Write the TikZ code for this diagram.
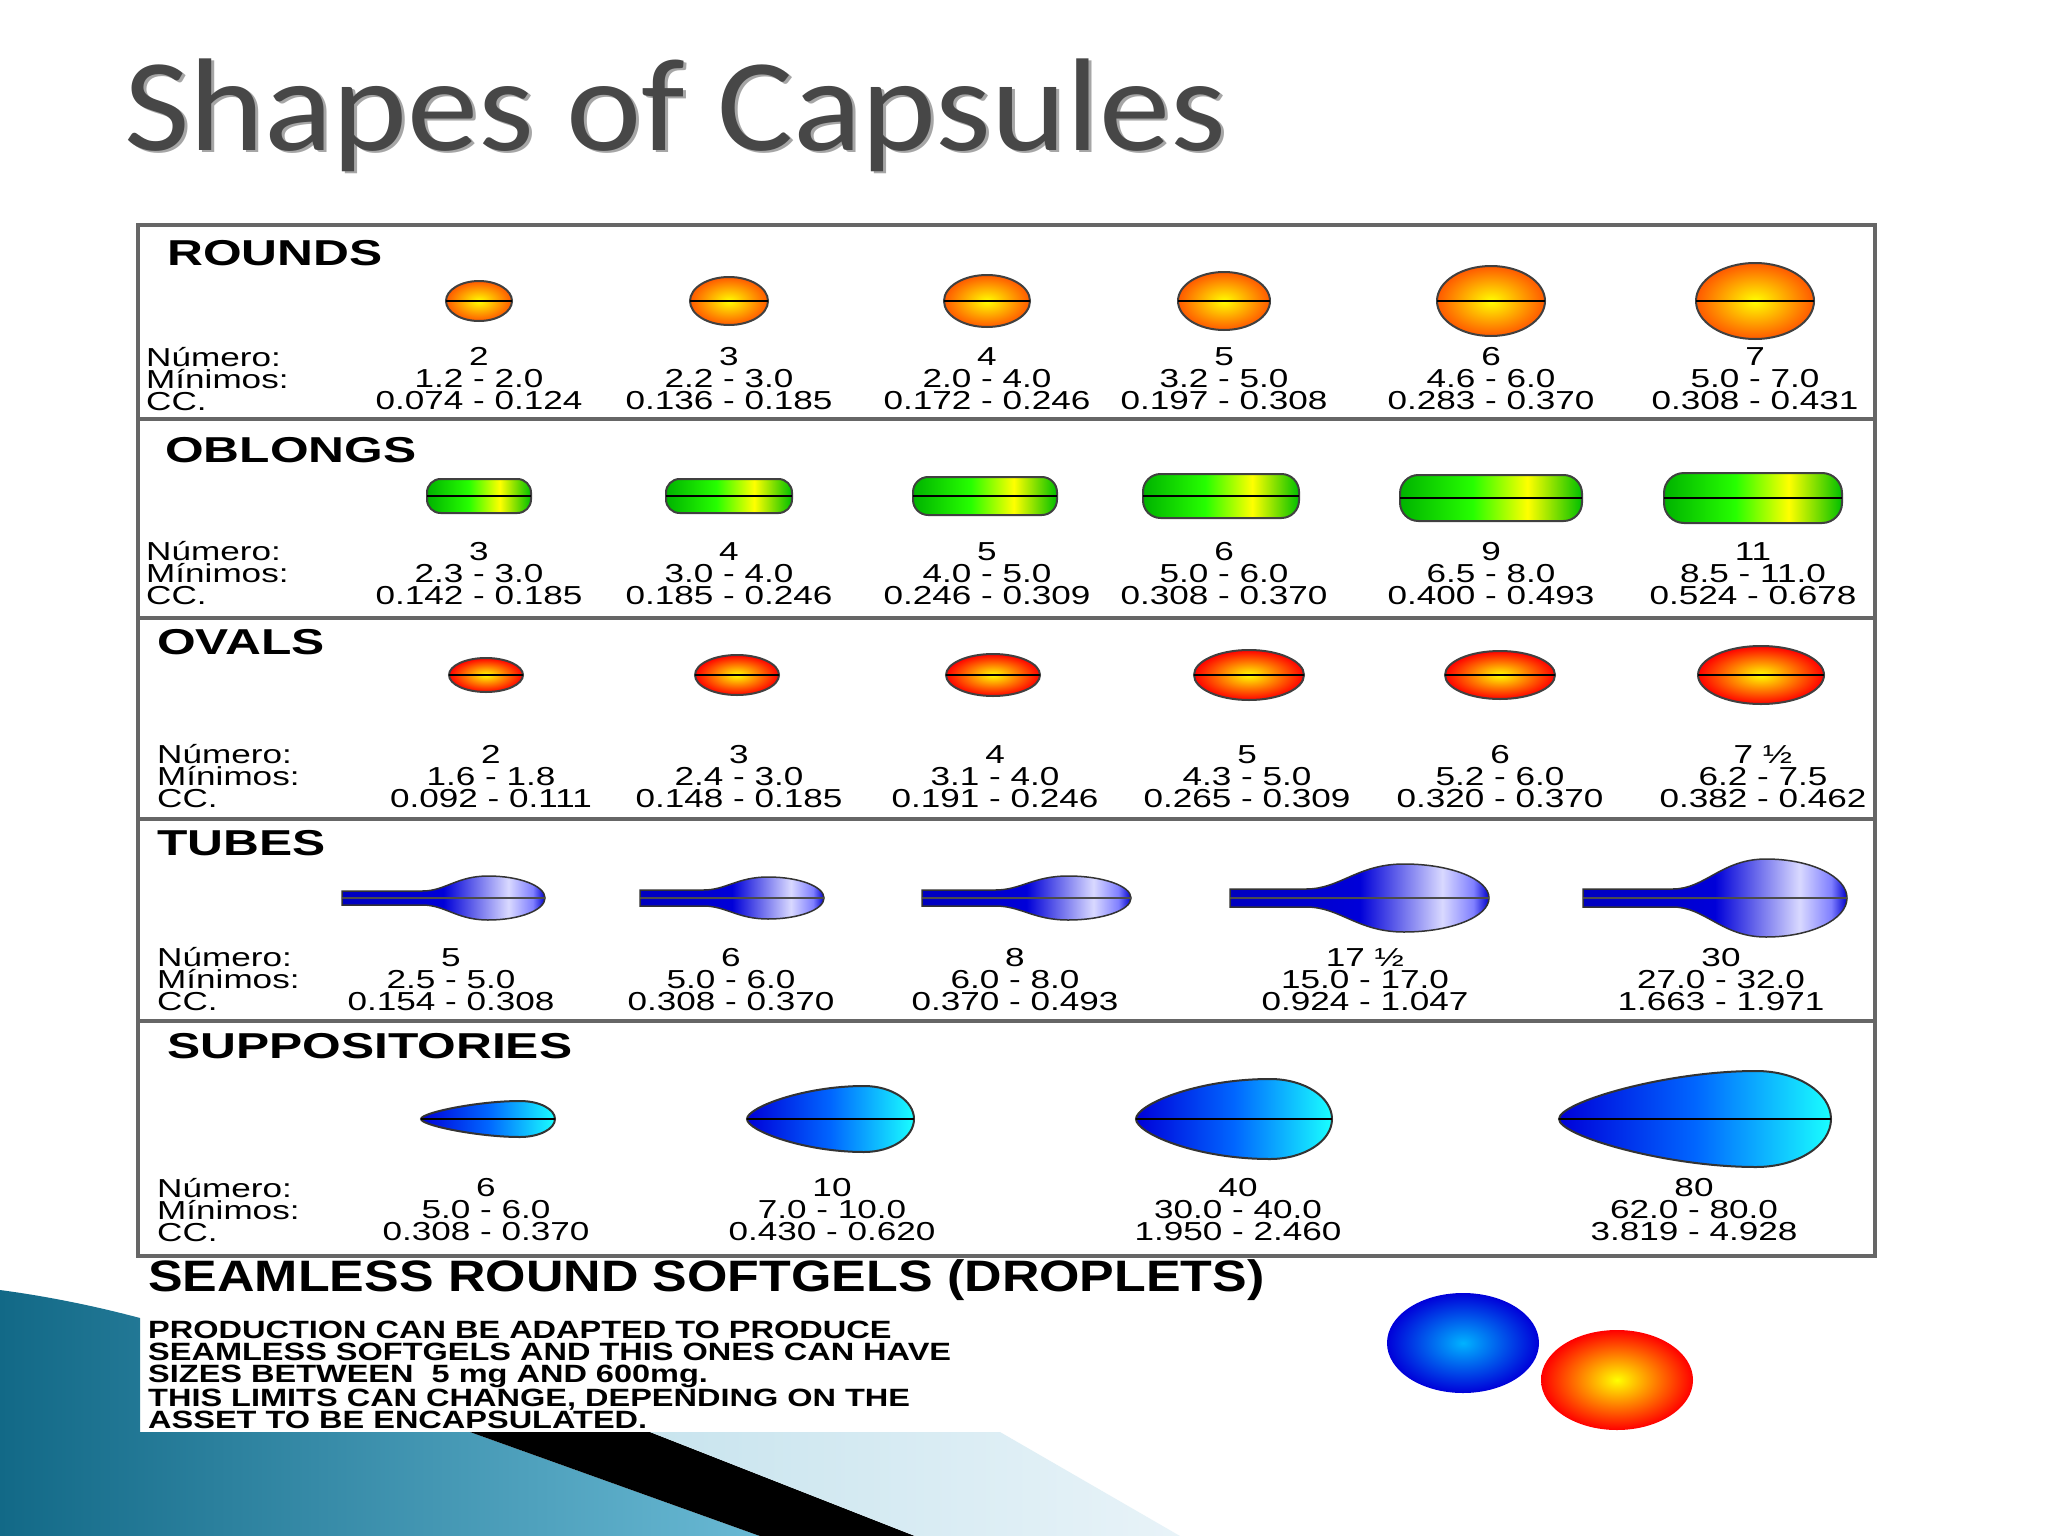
\documentclass[tikz,border=0pt]{standalone}
\usepackage{fontspec}
\setmainfont{Liberation Sans}
\newfontfamily\titlefont[FakeStretch=1.08]{Carlito}
\newfontfamily\numfont[FakeStretch=1.35]{Liberation Sans}
\newfontfamily\hdrfont[FakeStretch=1.38]{Liberation Sans Bold}
\newfontfamily\dhfont[FakeStretch=1.18]{Liberation Sans Bold}
\newfontfamily\txtfont[FakeStretch=1.3]{Liberation Sans Bold}
\definecolor{tealA}{RGB}{18,105,135}
\definecolor{tealB}{RGB}{105,185,212}
\definecolor{paleA}{RGB}{200,228,238}
\definecolor{paleB}{RGB}{232,243,248}
\pgfdeclarehorizontalshading{tubesh}{100bp}{color(0bp)=(blue!75!black); color(25bp)=(blue!75!black); color(50bp)=(blue!85!black); color(66bp)=(white!85!blue); color(72bp)=(blue!50!white); color(75bp)=(blue!80!black); color(100bp)=(blue!80!black)}
\pgfdeclarehorizontalshading{suppsh}{100bp}{color(0bp)=(blue!85!black); color(25bp)=(blue!85!black); color(50bp)=(blue!60!cyan); color(75bp)=(cyan!90!white); color(100bp)=(cyan!90!white)}
\pgfdeclarehorizontalshading{oblsh}{100bp}{color(0bp)=(green!70!black); color(25bp)=(green!70!black); color(45bp)=(green!85!yellow); color(60bp)=(yellow); color(75bp)=(green!75!black); color(100bp)=(green!75!black)}
\tikzset{
  lbl/.style={font=\numfont\fontsize{26}{22}\selectfont, align=center, inner sep=0pt},
  side/.style={font=\numfont\fontsize{26}{22}\selectfont, align=left, inner sep=0pt, anchor=west},
  hdr/.style={font=\hdrfont\fontsize{36}{36}\selectfont, inner sep=0pt, anchor=west},
  frame/.style={draw=black!60, line width=3.5pt},
  rnd/.style={draw=black!75, line width=2pt, inner color=yellow, outer color=orange!70!red},
  ovl/.style={draw=black!75, line width=2pt, inner color=yellow, outer color=red},
  obl/.style={draw=black!75, line width=2pt, shading=oblsh},
  tub/.style={draw=black!80, line width=1.5pt, shading=tubesh},
  sup/.style={draw=black!80, line width=2pt, shading=suppsh},
  mid/.style={draw=black, line width=1.5pt}
}
\newcommand\capell[6]{% name style cx cy rx ry
  \path[#2] (#3,#4) ellipse [x radius=#5, y radius=#6];
  \coordinate (#1) at (#3,#4);
  \draw[mid] ({#3-#5},#4) -- ({#3+#5},#4);
}
\newcommand\oblong[5]{% name cx cy hw hh
  \path[obl, rounded corners=#5*0.8] ({#2-#4},{#3-#5}) rectangle ({#2+#4},{#3+#5});
  \coordinate (#1) at (#2,#3);
  \draw[mid] ({#2-#4},#3) -- ({#2+#4},#3);
}
\newcommand\tubeshape[7]{% name cx cy rx ry x0 n
  \path[tub] (#6,{#3-#7}) -- ({#2-#4*1.15},{#3-#7}) .. controls ({#2-#4*0.75},{#3-#7}) and ({#2-#4*0.55},{#3-#5}) .. (#2,{#3-#5})
    arc[start angle=-90, end angle=90, x radius=#4, y radius=#5]
    .. controls ({#2-#4*0.55},{#3+#5}) and ({#2-#4*0.75},{#3+#7}) .. ({#2-#4*1.15},{#3+#7}) -- (#6,{#3+#7}) -- cycle;
  \coordinate (#1) at (#2,#3);
  \draw[mid, draw=black!70] (#6,#3) -- ({#2+#4},#3);
}
\newcommand\suppshape[6]{% name cx cy rx ry x0
  \path[sup] (#6,#3) .. controls (#6,{#3-#5*0.35}) and ({#2-#4*1.2},{#3-#5}) .. (#2,{#3-#5})
    arc[start angle=-90, end angle=90, x radius=#4, y radius=#5]
    .. controls ({#2-#4*1.2},{#3+#5}) and (#6,{#3+#5*0.35}) .. (#6,#3) -- cycle;
  \coordinate (#1) at (#2,#3);
  \draw[mid] (#6,#3) -- ({#2+#4},#3);
}
\newcommand\lab[5]{\node[lbl] (#1) at (#2) {#3\\#4\\#5};}
\begin{document}
\begin{tikzpicture}[x=1pt,y=-1pt]
\useasboundingbox (0,0) rectangle (2048,1536);
\fill[white] (0,0) rectangle (2048,1536);
% background swoosh
\path[left color=tealA, right color=tealB] (0,1290) .. controls (60,1298) and (110,1310) .. (140,1318) -- (140,1432) -- (470,1432) -- (760,1536) -- (0,1536) -- cycle;
\fill[black] (470,1432) -- (650,1432) -- (915,1536) -- (760,1536) -- cycle;
\path[left color=paleA, right color=paleB] (650,1432) -- (1000,1432) -- (1180,1536) -- (915,1536) -- cycle;
% title
\node[anchor=base west, inner sep=0pt, text=black!35, font=\titlefont\fontsize{132}{132}\selectfont] (titlesh) at (127,153) {Shapes of Capsules};
\node[anchor=base west, inner sep=0pt, text=black!72, font=\titlefont\fontsize{132}{132}\selectfont] (title) at (124,150) {Shapes of Capsules};
% frame
\draw[frame] (138,225) rectangle (1875,1256);
\foreach \yy in {419,618,819,1021} \draw[frame] (138,\yy) -- (1875,\yy);
% ROUNDS
\node[hdr] (hrounds) at (167,253) {ROUNDS};
\capell{r1}{rnd}{479}{301}{33}{20}
\capell{r2}{rnd}{729}{301}{39}{24}
\capell{r3}{rnd}{987}{301}{43}{26}
\capell{r4}{rnd}{1224}{301}{46}{29}
\capell{r5}{rnd}{1491}{301}{54}{35}
\capell{r6}{rnd}{1755}{301}{59}{38}
\node[side] (sr) at (146,379) {Número:\\Mínimos:\\CC.};
\lab{lr1}{479,379}{2}{1.2 - 2.0}{0.074 - 0.124}
\lab{lr2}{729,379}{3}{2.2 - 3.0}{0.136 - 0.185}
\lab{lr3}{987,379}{4}{2.0 - 4.0}{0.172 - 0.246}
\lab{lr4}{1224,379}{5}{3.2 - 5.0}{0.197 - 0.308}
\lab{lr5}{1491,379}{6}{4.6 - 6.0}{0.283 - 0.370}
\lab{lr6}{1755,379}{7}{5.0 - 7.0}{0.308 - 0.431}
% OBLONGS
\node[hdr] (hobl) at (165,450) {OBLONGS};
\oblong{o1}{479}{496}{52}{17}
\oblong{o2}{729}{496}{63}{17}
\oblong{o3}{985}{496}{72}{19}
\oblong{o4}{1221}{496}{78}{22}
\oblong{o5}{1491}{498}{91}{23}
\oblong{o6}{1753}{498}{89}{25}
\node[side] (so) at (146,573) {Número:\\Mínimos:\\CC.};
\lab{lo1}{479,574}{3}{2.3 - 3.0}{0.142 - 0.185}
\lab{lo2}{729,574}{4}{3.0 - 4.0}{0.185 - 0.246}
\lab{lo3}{987,574}{5}{4.0 - 5.0}{0.246 - 0.309}
\lab{lo4}{1224,574}{6}{5.0 - 6.0}{0.308 - 0.370}
\lab{lo5}{1491,574}{9}{6.5 - 8.0}{0.400 - 0.493}
\lab{lo6}{1753,574}{11}{8.5 - 11.0}{0.524 - 0.678}
% OVALS
\node[hdr] (hov) at (157,642) {OVALS};
\capell{v1}{ovl}{486}{675}{37}{17}
\capell{v2}{ovl}{737}{675}{42}{20}
\capell{v3}{ovl}{993}{675}{47}{21}
\capell{v4}{ovl}{1249}{675}{55}{25}
\capell{v5}{ovl}{1500}{675}{55}{24}
\capell{v6}{ovl}{1761}{675}{63}{29}
\node[side] (sv) at (157,776) {Número:\\Mínimos:\\CC.};
\lab{lv1}{491,777}{2}{1.6 - 1.8}{0.092 - 0.111}
\lab{lv2}{739,777}{3}{2.4 - 3.0}{0.148 - 0.185}
\lab{lv3}{995,777}{4}{3.1 - 4.0}{0.191 - 0.246}
\lab{lv4}{1247,777}{5}{4.3 - 5.0}{0.265 - 0.309}
\lab{lv5}{1500,777}{6}{5.2 - 6.0}{0.320 - 0.370}
\lab{lv6}{1763,777}{7 ½}{6.2 - 7.5}{0.382 - 0.462}
% TUBES
\node[hdr] (htub) at (157,843) {TUBES};
\tubeshape{t1}{488}{898}{57}{22}{342}{7}
\tubeshape{t2}{768}{898}{56}{21}{640}{8}
\tubeshape{t3}{1068}{898}{63}{22}{922}{8}
\tubeshape{t4}{1404}{898}{85}{34}{1230}{9}
\tubeshape{t5}{1766}{898}{81}{39}{1583}{9}
\node[side] (st) at (157,979) {Número:\\Mínimos:\\CC.};
\lab{lt1}{451,980}{5}{2.5 - 5.0}{0.154 - 0.308}
\lab{lt2}{731,980}{6}{5.0 - 6.0}{0.308 - 0.370}
\lab{lt3}{1015,980}{8}{6.0 - 8.0}{0.370 - 0.493}
\lab{lt4}{1365,980}{17 ½}{15.0 - 17.0}{0.924 - 1.047}
\lab{lt5}{1721,980}{30}{27.0 - 32.0}{1.663 - 1.971}
% SUPPOSITORIES
\node[hdr] (hsup) at (167,1046) {SUPPOSITORIES};
\suppshape{p1}{520}{1119}{35}{18}{421}
\suppshape{p2}{864}{1119}{50}{33}{747}
\suppshape{p3}{1270}{1119}{62}{40}{1136}
\suppshape{p4}{1756}{1119}{75}{48}{1559}
\node[side] (sp) at (157,1210) {Número:\\Mínimos:\\CC.};
\lab{lp1}{486,1210}{6}{5.0 - 6.0}{0.308 - 0.370}
\lab{lp2}{832,1210}{10}{7.0 - 10.0}{0.430 - 0.620}
\lab{lp3}{1238,1210}{40}{30.0 - 40.0}{1.950 - 2.460}
\lab{lp4}{1694,1210}{80}{62.0 - 80.0}{3.819 - 4.928}
% droplets
\node[anchor=west, inner sep=0pt, font=\dhfont\fontsize{44}{44}\selectfont] (hdrop) at (148,1280) {SEAMLESS ROUND SOFTGELS (DROPLETS)};
\node[anchor=north west, align=left, inner sep=0pt, font=\txtfont\fontsize{25}{22}\selectfont] (dtext) at (148,1321) {PRODUCTION CAN BE ADAPTED TO PRODUCE\\SEAMLESS SOFTGELS AND THIS ONES CAN HAVE\\SIZES BETWEEN\ \ 5 mg AND 600mg.\\THIS LIMITS CAN CHANGE, DEPENDING ON THE\\ASSET TO BE ENCAPSULATED.};
\path[inner color=cyan!70!blue, outer color=blue!85!black] (1463,1343) ellipse [x radius=76, y radius=50];
\coordinate (db) at (1463,1343);
\path[inner color=yellow, outer color=red] (1617,1380) ellipse [x radius=76, y radius=50];
\coordinate (dr) at (1617,1380);
\end{tikzpicture}
\end{document}
